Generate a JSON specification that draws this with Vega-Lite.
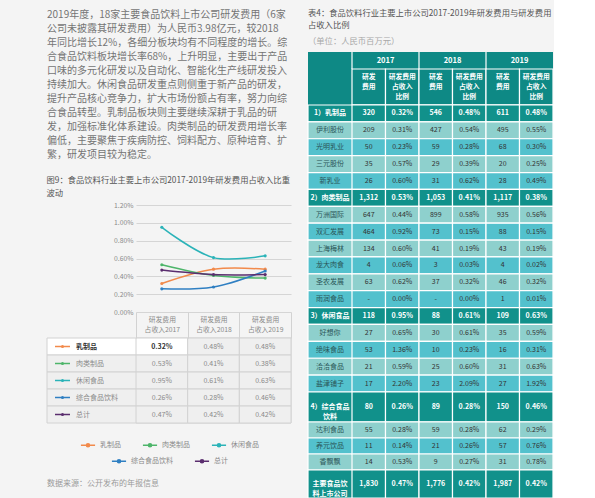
{
  "$schema": "https://vega.github.io/schema/vega-lite/v6.json",
  "background": "#f4f4f4",
  "padding": {"left": 46, "top": 8, "right": 0, "bottom": 0},
  "config": {
    "font": "Noto Sans CJK SC",
    "view": {"stroke": null},
    "legend": {"layout": {"bottom": {"anchor": "middle", "direction": "vertical", "center": true, "margin": 3}}}
  },
  "datasets": {
    "paragraph": [
      {"line": 1, "text": "2019年度，18家主要食品饮料上市公司研发费用（6家"},
      {"line": 2, "text": "公司未披露其研发费用）为人民币3.98亿元，较2018"},
      {"line": 3, "text": "年同比增长12%，各细分板块均有不同程度的增长。综"},
      {"line": 4, "text": "合食品饮料板块增长率68%，上升明显，主要出于产品"},
      {"line": 5, "text": "口味的多元化研发以及自动化、智能化生产线研发投入"},
      {"line": 6, "text": "持续加大。休闲食品研发重点则侧重于新产品的研发，"},
      {"line": 7, "text": "提升产品核心竞争力，扩大市场份额占有率，努力向综"},
      {"line": 8, "text": "合食品转型。乳制品板块则主要继续深耕于乳品的研"},
      {"line": 9, "text": "发，加强标准化体系建设。肉类制品的研发费用增长率"},
      {"line": 10, "text": "偏低，主要聚焦于疾病防控、饲料配方、原种培育、扩"},
      {"line": 11, "text": "繁，研发项目较为稳定。"}
    ],
    "tabletitle": [
      {"line": 1, "text": "表4：食品饮料行业主要上市公司2017-2019年研发费用与研发费用"},
      {"line": 2, "text": "　　占收入比例"}
    ],
    "series": [
      {"series": "乳制品", "year": "2017", "value": 0.0032},
      {"series": "乳制品", "year": "2018", "value": 0.0048},
      {"series": "乳制品", "year": "2019", "value": 0.0048},
      {"series": "肉类制品", "year": "2017", "value": 0.0053},
      {"series": "肉类制品", "year": "2018", "value": 0.0041},
      {"series": "肉类制品", "year": "2019", "value": 0.0038},
      {"series": "休闲食品", "year": "2017", "value": 0.0095},
      {"series": "休闲食品", "year": "2018", "value": 0.0061},
      {"series": "休闲食品", "year": "2019", "value": 0.0063},
      {"series": "综合食品饮料", "year": "2017", "value": 0.0026},
      {"series": "综合食品饮料", "year": "2018", "value": 0.0028},
      {"series": "综合食品饮料", "year": "2019", "value": 0.0046},
      {"series": "总计", "year": "2017", "value": 0.0047},
      {"series": "总计", "year": "2018", "value": 0.0042},
      {"series": "总计", "year": "2019", "value": 0.0042}
    ],
    "years": [
      {"year": "2017", "v": "v2017", "p": "p2017"},
      {"year": "2018", "v": "v2018", "p": "p2018"},
      {"year": "2019", "v": "v2019", "p": "p2019"}
    ],
    "hcols": [
      {"col": "v2017", "label": "研发\n费用"},
      {"col": "p2017", "label": "研发费用\n占收入\n比例"},
      {"col": "v2018", "label": "研发\n费用"},
      {"col": "p2018", "label": "研发费用\n占收入\n比例"},
      {"col": "v2019", "label": "研发\n费用"},
      {"col": "p2019", "label": "研发费用\n占收入\n比例"}
    ],
    "tbl": [
      {"name": "1）乳制品", "group": "乳制品", "level": "cat", "v2017": 320, "p2017": 0.0032, "v2018": 546, "p2018": 0.0048, "v2019": 611, "p2019": 0.0048},
      {"name": "伊利股份", "group": "乳制品", "level": "co", "v2017": 209, "p2017": 0.0031, "v2018": 427, "p2018": 0.0054, "v2019": 495, "p2019": 0.0055},
      {"name": "光明乳业", "group": "乳制品", "level": "co", "v2017": 50, "p2017": 0.0023, "v2018": 59, "p2018": 0.0028, "v2019": 68, "p2019": 0.0030},
      {"name": "三元股份", "group": "乳制品", "level": "co", "v2017": 35, "p2017": 0.0057, "v2018": 29, "p2018": 0.0039, "v2019": 20, "p2019": 0.0025},
      {"name": "新乳业", "group": "乳制品", "level": "co", "v2017": 26, "p2017": 0.0060, "v2018": 31, "p2018": 0.0062, "v2019": 28, "p2019": 0.0049},
      {"name": "2）肉类制品", "group": "肉类制品", "level": "cat", "v2017": 1312, "p2017": 0.0053, "v2018": 1053, "p2018": 0.0041, "v2019": 1117, "p2019": 0.0038},
      {"name": "万洲国际", "group": "肉类制品", "level": "co", "v2017": 647, "p2017": 0.0044, "v2018": 899, "p2018": 0.0058, "v2019": 935, "p2019": 0.0056},
      {"name": "双汇发展", "group": "肉类制品", "level": "co", "v2017": 464, "p2017": 0.0092, "v2018": 73, "p2018": 0.0015, "v2019": 88, "p2019": 0.0015},
      {"name": "上海梅林", "group": "肉类制品", "level": "co", "v2017": 134, "p2017": 0.0060, "v2018": 41, "p2018": 0.0019, "v2019": 43, "p2019": 0.0019},
      {"name": "龙大肉食", "group": "肉类制品", "level": "co", "v2017": 4, "p2017": 0.0006, "v2018": 3, "p2018": 0.0003, "v2019": 4, "p2019": 0.0002},
      {"name": "圣农发展", "group": "肉类制品", "level": "co", "v2017": 63, "p2017": 0.0062, "v2018": 37, "p2018": 0.0032, "v2019": 46, "p2019": 0.0032},
      {"name": "雨润食品", "group": "肉类制品", "level": "co", "v2017": null, "p2017": 0.0, "v2018": null, "p2018": 0.0, "v2019": 1, "p2019": 0.0001},
      {"name": "3）休闲食品", "group": "休闲食品", "level": "cat", "v2017": 118, "p2017": 0.0095, "v2018": 88, "p2018": 0.0061, "v2019": 109, "p2019": 0.0063},
      {"name": "好想你", "group": "休闲食品", "level": "co", "v2017": 27, "p2017": 0.0065, "v2018": 30, "p2018": 0.0061, "v2019": 35, "p2019": 0.0059},
      {"name": "绝味食品", "group": "休闲食品", "level": "co", "v2017": 53, "p2017": 0.0136, "v2018": 10, "p2018": 0.0023, "v2019": 16, "p2019": 0.0031},
      {"name": "洽洽食品", "group": "休闲食品", "level": "co", "v2017": 21, "p2017": 0.0059, "v2018": 25, "p2018": 0.0060, "v2019": 31, "p2019": 0.0063},
      {"name": "盐津铺子", "group": "休闲食品", "level": "co", "v2017": 17, "p2017": 0.0220, "v2018": 23, "p2018": 0.0209, "v2019": 27, "p2019": 0.0192},
      {"name": "4）综合食品\n饮料", "group": "综合食品饮料", "level": "cat", "v2017": 80, "p2017": 0.0026, "v2018": 89, "p2018": 0.0028, "v2019": 150, "p2019": 0.0046},
      {"name": "达利食品", "group": "综合食品饮料", "level": "co", "v2017": 55, "p2017": 0.0028, "v2018": 59, "p2018": 0.0028, "v2019": 62, "p2019": 0.0029},
      {"name": "养元饮品", "group": "综合食品饮料", "level": "co", "v2017": 11, "p2017": 0.0014, "v2018": 21, "p2018": 0.0026, "v2019": 57, "p2019": 0.0076},
      {"name": "香飘飘", "group": "综合食品饮料", "level": "co", "v2017": 14, "p2017": 0.0053, "v2018": 9, "p2018": 0.0027, "v2019": 31, "p2019": 0.0078},
      {"name": "主要食品饮\n料上市公司", "group": "合计", "level": "total", "v2017": 1830, "p2017": 0.0047, "v2018": 1776, "p2018": 0.0042, "v2019": 1987, "p2019": 0.0042}
    ]
  },
  "resolve": {"scale": {"color": "independent", "fill": "independent", "stroke": "independent"}, "legend": {"color": "independent", "fill": "independent", "stroke": "independent"}},
  "spacing": 15,
  "hconcat": [
    {
      "spacing": 13,
      "resolve": {"scale": {"color": "independent", "stroke": "independent"}, "legend": {"color": "independent", "stroke": "independent"}},
      "vconcat": [
        {
          "width": 244,
          "height": 154,
          "data": {"name": "paragraph"},
          "mark": {"type": "text", "align": "left", "baseline": "middle", "fontSize": 10, "color": "#757575"},
          "encoding": {
            "x": {"value": 0},
            "y": {"field": "line", "type": "ordinal", "axis": null, "scale": {"paddingInner": 0, "paddingOuter": 0}},
            "text": {"field": "text"}
          }
        },
        {
          "spacing": 8,
          "resolve": {"scale": {"color": "independent", "stroke": "independent"}, "legend": {"color": "independent", "stroke": "independent"}},
          "vconcat": [
            {
              "width": 244,
              "height": 218,
              "title": {
                "text": ["图9：食品饮料行业主要上市公司2017-2019年研发费用占收入比重", "　　波动"],
                "anchor": "start",
                "frame": "bounds",
                "fontSize": 8.3,
                "fontWeight": "normal",
                "color": "#555555",
                "lineHeight": 13,
                "offset": 5
              },
              "data": {"name": "series"},
              "resolve": {"scale": {"y": "independent"}},
              "layer": [
                {
                  "transform": [{"filter": "datum.year === '2017'"}],
                  "mark": {"type": "bar", "stroke": "#d2d2d2", "strokeWidth": 1},
                  "encoding": {
                    "y": {"field": "series", "type": "nominal", "axis": null, "scale": {"domain": ["乳制品", "肉类制品", "休闲食品", "综合食品饮料", "总计"], "range": [133, 218], "paddingInner": 0, "paddingOuter": 0}},
                    "color": {"condition": {"test": "datum.series === '乳制品'", "value": "#ffffff"}, "value": "#efefef"}
                  }
                },
                {
                  "mark": {"type": "rect", "stroke": "#d2d2d2", "strokeWidth": 1},
                  "encoding": {
                    "x": {"field": "year", "type": "ordinal", "scale": {"range": [89, 244], "paddingInner": 0, "paddingOuter": 0}, "axis": {"orient": "bottom", "offset": -111, "title": null, "domain": false, "grid": false, "ticks": true, "tickBand": "extent", "tickSize": 26, "tickColor": "#d2d2d2", "tickWidth": 1, "labelExpr": "datum.label ? ['研发费用', '占收入' + datum.label] : ''", "labelFontSize": 6.8, "labelColor": "#8a8a8a", "labelPadding": -22, "labelLineHeight": 10.5, "labelAngle": 0}},
                    "y": {"field": "series", "type": "nominal", "axis": null, "scale": {"domain": ["乳制品", "肉类制品", "休闲食品", "综合食品饮料", "总计"], "range": [133, 218], "paddingInner": 0, "paddingOuter": 0}},
                    "color": {"condition": {"test": "datum.series === '乳制品' && datum.year === '2017'", "value": "#ffffff"}, "value": "#efefef"}
                  }
                },
                {
                  "transform": [{"filter": "datum.year === '2017' && (datum.series === '乳制品' || datum.series === '肉类制品' || datum.series === '休闲食品')"}],
                  "mark": {"type": "rule", "strokeWidth": 1.5},
                  "encoding": {
                    "y": {"field": "series", "type": "nominal", "axis": null, "scale": {"domain": ["乳制品", "肉类制品", "休闲食品", "综合食品饮料", "总计"], "range": [133, 218], "paddingInner": 0, "paddingOuter": 0}},
                    "x": {"value": 8},
                    "x2": {"value": 23},
                    "color": {"field": "series", "type": "nominal", "scale": {"domain": ["乳制品", "肉类制品", "休闲食品", "综合食品饮料", "总计"], "range": ["#f28a4b", "#4db56a", "#2bb3b8", "#2f7fc2", "#5a2d6e"]}}
                  }
                },
                {
                  "transform": [{"filter": "datum.year === '2017' && (datum.series === '综合食品饮料' || datum.series === '总计')"}],
                  "mark": {"type": "rule", "strokeWidth": 1.5},
                  "encoding": {
                    "y": {"field": "series", "type": "nominal", "axis": null, "scale": {"domain": ["乳制品", "肉类制品", "休闲食品", "综合食品饮料", "总计"], "range": [133, 218], "paddingInner": 0, "paddingOuter": 0}},
                    "x": {"value": 8},
                    "x2": {"value": 23},
                    "stroke": {
                      "field": "series",
                      "type": "nominal",
                      "scale": {"domain": ["综合食品饮料", "总计"], "range": ["#2f7fc2", "#5a2d6e"]},
                      "legend": {"orient": "bottom", "direction": "horizontal", "title": null, "labelFontSize": 7, "labelColor": "#8a8a8a", "symbolType": "M-1,0L1,0M0.22,0A0.22,0.22 0 1,1 -0.22,0A0.22,0.22 0 1,1 0.22,0Z", "symbolSize": 200, "symbolStrokeWidth": 1.5, "columnPadding": 18, "offset": 14, "labelOffset": 4}
                    }
                  }
                },
                {
                  "transform": [{"filter": "datum.year === '2017'"}],
                  "mark": {"type": "point", "filled": true, "size": 9, "opacity": 1},
                  "encoding": {
                    "y": {"field": "series", "type": "nominal", "axis": null, "scale": {"domain": ["乳制品", "肉类制品", "休闲食品", "综合食品饮料", "总计"], "range": [133, 218], "paddingInner": 0, "paddingOuter": 0}},
                    "x": {"value": 15.5},
                    "color": {"field": "series", "type": "nominal", "scale": {"domain": ["乳制品", "肉类制品", "休闲食品", "综合食品饮料", "总计"], "range": ["#f28a4b", "#4db56a", "#2bb3b8", "#2f7fc2", "#5a2d6e"]}}
                  }
                },
                {
                  "transform": [{"filter": "datum.year === '2017' && datum.series !== '乳制品'"}],
                  "mark": {"type": "text", "align": "left", "fontSize": 7, "color": "#8a8a8a"},
                  "encoding": {
                    "y": {"field": "series", "type": "nominal", "axis": null, "scale": {"domain": ["乳制品", "肉类制品", "休闲食品", "综合食品饮料", "总计"], "range": [133, 218], "paddingInner": 0, "paddingOuter": 0}},
                    "x": {"value": 29},
                    "text": {"field": "series"}
                  }
                },
                {
                  "transform": [{"filter": "datum.year === '2017' && datum.series === '乳制品'"}],
                  "mark": {"type": "text", "align": "left", "fontSize": 7, "fontWeight": "bold", "color": "#333333"},
                  "encoding": {
                    "y": {"field": "series", "type": "nominal", "axis": null, "scale": {"domain": ["乳制品", "肉类制品", "休闲食品", "综合食品饮料", "总计"], "range": [133, 218], "paddingInner": 0, "paddingOuter": 0}},
                    "x": {"value": 29},
                    "text": {"field": "series"}
                  }
                },
                {
                  "transform": [{"filter": "datum.series !== '乳制品' || datum.year !== '2017'"}],
                  "mark": {"type": "text", "fontSize": 7, "color": "#8a8a8a"},
                  "encoding": {
                    "x": {"field": "year", "type": "ordinal", "scale": {"range": [89, 244], "paddingInner": 0, "paddingOuter": 0}, "axis": {"orient": "bottom", "offset": -111, "title": null, "domain": false, "grid": false, "ticks": true, "tickBand": "extent", "tickSize": 26, "tickColor": "#d2d2d2", "tickWidth": 1, "labelExpr": "datum.label ? ['研发费用', '占收入' + datum.label] : ''", "labelFontSize": 6.8, "labelColor": "#8a8a8a", "labelPadding": -22, "labelLineHeight": 10.5, "labelAngle": 0}},
                    "y": {"field": "series", "type": "nominal", "axis": null, "scale": {"domain": ["乳制品", "肉类制品", "休闲食品", "综合食品饮料", "总计"], "range": [133, 218], "paddingInner": 0, "paddingOuter": 0}},
                    "text": {"field": "value", "type": "quantitative", "format": ".2%"}
                  }
                },
                {
                  "transform": [{"filter": "datum.series === '乳制品' && datum.year === '2017'"}],
                  "mark": {"type": "text", "fontSize": 7, "fontWeight": "bold", "color": "#333333"},
                  "encoding": {
                    "x": {"field": "year", "type": "ordinal", "scale": {"range": [89, 244], "paddingInner": 0, "paddingOuter": 0}, "axis": {"orient": "bottom", "offset": -111, "title": null, "domain": false, "grid": false, "ticks": true, "tickBand": "extent", "tickSize": 26, "tickColor": "#d2d2d2", "tickWidth": 1, "labelExpr": "datum.label ? ['研发费用', '占收入' + datum.label] : ''", "labelFontSize": 6.8, "labelColor": "#8a8a8a", "labelPadding": -22, "labelLineHeight": 10.5, "labelAngle": 0}},
                    "y": {"field": "series", "type": "nominal", "axis": null, "scale": {"domain": ["乳制品", "肉类制品", "休闲食品", "综合食品饮料", "总计"], "range": [133, 218], "paddingInner": 0, "paddingOuter": 0}},
                    "text": {"field": "value", "type": "quantitative", "format": ".2%"}
                  }
                },
                {
                  "mark": {"type": "line", "interpolate": "catmull-rom", "strokeWidth": 1.5, "point": {"filled": true, "size": 10}},
                  "encoding": {
                    "x": {"field": "year", "type": "ordinal", "scale": {"range": [89, 244], "paddingInner": 0, "paddingOuter": 0}, "axis": {"orient": "bottom", "offset": -111, "title": null, "domain": false, "grid": false, "ticks": true, "tickBand": "extent", "tickSize": 26, "tickColor": "#d2d2d2", "tickWidth": 1, "labelExpr": "datum.label ? ['研发费用', '占收入' + datum.label] : ''", "labelFontSize": 6.8, "labelColor": "#8a8a8a", "labelPadding": -22, "labelLineHeight": 10.5, "labelAngle": 0}},
                    "y": {"field": "value", "type": "quantitative", "scale": {"domain": [0, 0.012], "range": [107, 0], "nice": false, "zero": true}, "axis": {"orient": "left", "offset": -89, "format": ".2%", "values": [0, 0.002, 0.004, 0.006, 0.008, 0.01, 0.012], "title": null, "domain": false, "ticks": false, "grid": true, "gridColor": "#d5d5d5", "gridWidth": 1, "labelFontSize": 6.8, "labelColor": "#8a8a8a", "labelPadding": 3}},
                    "color": {
                      "field": "series",
                      "type": "nominal",
                      "scale": {"domain": ["乳制品", "肉类制品", "休闲食品", "综合食品饮料", "总计"], "range": ["#f28a4b", "#4db56a", "#2bb3b8", "#2f7fc2", "#5a2d6e"]},
                      "legend": {"orient": "bottom", "direction": "horizontal", "values": ["乳制品", "肉类制品", "休闲食品"], "title": null, "labelFontSize": 7, "labelColor": "#8a8a8a", "symbolType": "M-1,0L1,0M0.22,0A0.22,0.22 0 1,1 -0.22,0A0.22,0.22 0 1,1 0.22,0Z", "symbolSize": 200, "symbolStrokeWidth": 1.5, "columnPadding": 18, "offset": 14, "labelOffset": 4}
                    }
                  }
                }
              ]
            },
            {
              "width": 244,
              "height": 0,
              "data": {"values": [{"t": "数据来源：公开发布的年报信息"}]},
              "mark": {"type": "text", "align": "left", "baseline": "middle", "fontSize": 8, "color": "#9a9a9a"},
              "encoding": {"x": {"value": 0}, "text": {"field": "t"}}
            }
          ]
        }
      ]
    },
    {
      "spacing": 0,
      "bounds": "flush",
      "vconcat": [
        {
          "width": 245,
          "height": 24,
          "data": {"name": "tabletitle"},
          "mark": {"type": "text", "align": "left", "baseline": "middle", "fontSize": 8.3, "color": "#555555"},
          "encoding": {
            "x": {"value": 0},
            "y": {"field": "line", "type": "ordinal", "axis": null, "scale": {"paddingInner": 0, "paddingOuter": 0}},
            "text": {"field": "text"}
          }
        },
        {
          "width": 245,
          "height": 20,
          "data": {"values": [{"t": "（单位：人民币百万元）"}]},
          "mark": {"type": "text", "align": "left", "baseline": "middle", "fontSize": 8.3, "color": "#a8a8a8"},
          "encoding": {"x": {"value": 0}, "text": {"field": "t"}}
        },
        {
          "width": 245,
          "height": 17,
          "view": {"fill": "#0e8985", "stroke": null},
          "data": {"name": "years"},
          "layer": [
            {
              "mark": {"type": "rule", "stroke": "#ffffff", "strokeWidth": 1.2},
              "encoding": {"x": {"field": "v", "type": "nominal", "bandPosition": 0, "axis": null, "scale": {"domain": ["v2017", "p2017", "v2018", "p2018", "v2019", "p2019"], "range": [44, 245], "paddingInner": 0, "paddingOuter": 0}}}
            },
            {
              "mark": {"type": "text", "color": "#ffffff", "fontWeight": "bold", "fontSize": 7.5},
              "encoding": {
                "x": {"field": "p", "type": "nominal", "bandPosition": 0, "axis": null, "scale": {"domain": ["v2017", "p2017", "v2018", "p2018", "v2019", "p2019"], "range": [44, 245], "paddingInner": 0, "paddingOuter": 0}},
                "text": {"field": "year"}
              }
            }
          ]
        },
        {
          "width": 245,
          "height": 36,
          "view": {"fill": "#0e8985", "stroke": null},
          "data": {"name": "hcols"},
          "encoding": {"x": {"field": "col", "type": "nominal", "axis": null, "scale": {"domain": ["v2017", "p2017", "v2018", "p2018", "v2019", "p2019"], "range": [44, 245], "paddingInner": 0, "paddingOuter": 0}}},
          "layer": [
            {"mark": {"type": "bar", "fill": "#0e8985", "stroke": "#ffffff", "strokeWidth": 1.2}},
            {
              "mark": {"type": "text", "color": "#ffffff", "fontWeight": "bold", "fontSize": 6.8, "lineBreak": "\n", "lineHeight": 10, "baseline": "top", "dy": -13.5},
              "encoding": {"text": {"field": "label"}}
            }
          ]
        },
        {
          "width": 245,
          "height": 287,
          "data": {"name": "tbl"},
          "transform": [{"filter": {"field": "group", "oneOf": ["乳制品", "肉类制品", "休闲食品"]}}],
          "encoding": {
            "y": {"field": "name", "type": "nominal", "axis": null, "scale": {"domain": ["1）乳制品", "伊利股份", "光明乳业", "三元股份", "新乳业", "2）肉类制品", "万洲国际", "双汇发展", "上海梅林", "龙大肉食", "圣农发展", "雨润食品", "3）休闲食品", "好想你", "绝味食品", "洽洽食品", "盐津铺子"], "paddingInner": 0, "paddingOuter": 0}}
          },
          "layer": [
            {
              "mark": {"type": "bar", "stroke": "#ffffff", "strokeWidth": 1.2},
              "encoding": {"fill": {"field": "name", "type": "nominal", "legend": null, "scale": {"domain": ["1）乳制品", "伊利股份", "光明乳业", "三元股份", "新乳业", "2）肉类制品", "万洲国际", "双汇发展", "上海梅林", "龙大肉食", "圣农发展", "雨润食品", "3）休闲食品", "好想你", "绝味食品", "洽洽食品", "盐津铺子", "4）综合食品\n饮料", "达利食品", "养元饮品", "香飘飘", "主要食品饮\n料上市公司"], "range": ["#11918b", "#8ed0cd", "#53c1cd", "#8ed0cd", "#53c1cd", "#11918b", "#8ed0cd", "#53c1cd", "#8ed0cd", "#53c1cd", "#8ed0cd", "#53c1cd", "#11918b", "#8ed0cd", "#53c1cd", "#8ed0cd", "#53c1cd", "#11918b", "#8ed0cd", "#53c1cd", "#8ed0cd", "#11918b"]}}}
            },
            {
              "transform": [{"fold": ["v2017", "p2017", "v2018", "p2018", "v2019", "p2019"], "as": ["col", "val"]}],
              "mark": {"type": "rect", "stroke": "#ffffff", "strokeWidth": 1.2},
              "encoding": {
                "x": {"field": "col", "type": "nominal", "axis": null, "scale": {"domain": ["v2017", "p2017", "v2018", "p2018", "v2019", "p2019"], "range": [44, 245], "paddingInner": 0, "paddingOuter": 0}},
                "fill": {"field": "name", "type": "nominal", "legend": null, "scale": {"domain": ["1）乳制品", "伊利股份", "光明乳业", "三元股份", "新乳业", "2）肉类制品", "万洲国际", "双汇发展", "上海梅林", "龙大肉食", "圣农发展", "雨润食品", "3）休闲食品", "好想你", "绝味食品", "洽洽食品", "盐津铺子", "4）综合食品\n饮料", "达利食品", "养元饮品", "香飘飘", "主要食品饮\n料上市公司"], "range": ["#11918b", "#8ed0cd", "#53c1cd", "#8ed0cd", "#53c1cd", "#11918b", "#8ed0cd", "#53c1cd", "#8ed0cd", "#53c1cd", "#8ed0cd", "#53c1cd", "#11918b", "#8ed0cd", "#53c1cd", "#8ed0cd", "#53c1cd", "#11918b", "#8ed0cd", "#53c1cd", "#8ed0cd", "#11918b"]}}
              }
            },
            {
              "transform": [{"filter": {"field": "level", "oneOf": ["cat", "total"]}}],
              "mark": {"type": "text", "color": "#ffffff", "fontWeight": "bold", "fontSize": 7, "lineBreak": "\n", "lineHeight": 10},
              "encoding": {"x": {"value": 22}, "text": {"field": "name"}}
            },
            {
              "transform": [{"filter": {"field": "level", "equal": "co"}}],
              "mark": {"type": "text", "color": "#2a5557", "fontSize": 7},
              "encoding": {"x": {"value": 22}, "text": {"field": "name"}}
            },
            {
              "transform": [{"filter": {"field": "level", "oneOf": ["cat", "total"]}}, {"fold": ["v2017", "v2018", "v2019"], "as": ["col", "val"]}],
              "mark": {"type": "text", "color": "#ffffff", "fontWeight": "bold", "fontSize": 7},
              "encoding": {
                "x": {"field": "col", "type": "nominal", "axis": null, "scale": {"domain": ["v2017", "p2017", "v2018", "p2018", "v2019", "p2019"], "range": [44, 245], "paddingInner": 0, "paddingOuter": 0}},
                "text": {"field": "val", "type": "quantitative", "format": ",d"}
              }
            },
            {
              "transform": [{"filter": {"field": "level", "oneOf": ["cat", "total"]}}, {"fold": ["p2017", "p2018", "p2019"], "as": ["col", "val"]}],
              "mark": {"type": "text", "color": "#ffffff", "fontWeight": "bold", "fontSize": 7},
              "encoding": {
                "x": {"field": "col", "type": "nominal", "axis": null, "scale": {"domain": ["v2017", "p2017", "v2018", "p2018", "v2019", "p2019"], "range": [44, 245], "paddingInner": 0, "paddingOuter": 0}},
                "text": {"field": "val", "type": "quantitative", "format": ".2%"}
              }
            },
            {
              "transform": [{"filter": {"field": "level", "equal": "co"}}, {"fold": ["v2017", "v2018", "v2019"], "as": ["col", "val"]}, {"filter": "datum.val !== null"}],
              "mark": {"type": "text", "color": "#333333", "fontSize": 7},
              "encoding": {
                "x": {"field": "col", "type": "nominal", "axis": null, "scale": {"domain": ["v2017", "p2017", "v2018", "p2018", "v2019", "p2019"], "range": [44, 245], "paddingInner": 0, "paddingOuter": 0}},
                "text": {"field": "val", "type": "quantitative", "format": ",d"}
              }
            },
            {
              "transform": [{"filter": {"field": "level", "equal": "co"}}, {"fold": ["v2017", "v2018", "v2019"], "as": ["col", "val"]}, {"filter": "datum.val === null"}],
              "mark": {"type": "text", "color": "#333333", "fontSize": 7},
              "encoding": {
                "x": {"field": "col", "type": "nominal", "axis": null, "scale": {"domain": ["v2017", "p2017", "v2018", "p2018", "v2019", "p2019"], "range": [44, 245], "paddingInner": 0, "paddingOuter": 0}},
                "text": {"value": "-"}
              }
            },
            {
              "transform": [{"filter": {"field": "level", "equal": "co"}}, {"fold": ["p2017", "p2018", "p2019"], "as": ["col", "val"]}],
              "mark": {"type": "text", "color": "#333333", "fontSize": 7},
              "encoding": {
                "x": {"field": "col", "type": "nominal", "axis": null, "scale": {"domain": ["v2017", "p2017", "v2018", "p2018", "v2019", "p2019"], "range": [44, 245], "paddingInner": 0, "paddingOuter": 0}},
                "text": {"field": "val", "type": "quantitative", "format": ".2%"}
              }
            }
          ]
        },
        {
          "width": 245,
          "height": 30,
          "data": {"name": "tbl"},
          "transform": [{"filter": {"and": [{"field": "group", "equal": "综合食品饮料"}, {"field": "level", "equal": "cat"}]}}],
          "encoding": {
            "y": {"field": "name", "type": "nominal", "axis": null, "scale": {"domain": ["4）综合食品\n饮料"], "paddingInner": 0, "paddingOuter": 0}}
          },
          "layer": [
            {"mark": {"type": "bar", "fill": "#11918b", "stroke": "#ffffff", "strokeWidth": 1.2}},
            {
              "transform": [{"fold": ["v2017", "p2017", "v2018", "p2018", "v2019", "p2019"], "as": ["col", "val"]}],
              "mark": {"type": "rect", "fill": "#11918b", "stroke": "#ffffff", "strokeWidth": 1.2},
              "encoding": {"x": {"field": "col", "type": "nominal", "axis": null, "scale": {"domain": ["v2017", "p2017", "v2018", "p2018", "v2019", "p2019"], "range": [44, 245], "paddingInner": 0, "paddingOuter": 0}}}
            },
            {
              "mark": {"type": "text", "color": "#ffffff", "fontWeight": "bold", "fontSize": 7, "lineBreak": "\n", "lineHeight": 10},
              "encoding": {"x": {"value": 22}, "text": {"field": "name"}}
            },
            {
              "transform": [{"fold": ["v2017", "v2018", "v2019"], "as": ["col", "val"]}],
              "mark": {"type": "text", "color": "#ffffff", "fontWeight": "bold", "fontSize": 7},
              "encoding": {
                "x": {"field": "col", "type": "nominal", "axis": null, "scale": {"domain": ["v2017", "p2017", "v2018", "p2018", "v2019", "p2019"], "range": [44, 245], "paddingInner": 0, "paddingOuter": 0}},
                "text": {"field": "val", "type": "quantitative", "format": ",d"}
              }
            },
            {
              "transform": [{"fold": ["p2017", "p2018", "p2019"], "as": ["col", "val"]}],
              "mark": {"type": "text", "color": "#ffffff", "fontWeight": "bold", "fontSize": 7},
              "encoding": {
                "x": {"field": "col", "type": "nominal", "axis": null, "scale": {"domain": ["v2017", "p2017", "v2018", "p2018", "v2019", "p2019"], "range": [44, 245], "paddingInner": 0, "paddingOuter": 0}},
                "text": {"field": "val", "type": "quantitative", "format": ".2%"}
              }
            }
          ]
        },
        {
          "width": 245,
          "height": 48,
          "data": {"name": "tbl"},
          "transform": [{"filter": {"and": [{"field": "group", "equal": "综合食品饮料"}, {"field": "level", "equal": "co"}]}}],
          "encoding": {
            "y": {"field": "name", "type": "nominal", "axis": null, "scale": {"domain": ["达利食品", "养元饮品", "香飘飘"], "paddingInner": 0, "paddingOuter": 0}}
          },
          "layer": [
            {
              "mark": {"type": "bar", "stroke": "#ffffff", "strokeWidth": 1.2},
              "encoding": {"fill": {"field": "name", "type": "nominal", "legend": null, "scale": {"domain": ["1）乳制品", "伊利股份", "光明乳业", "三元股份", "新乳业", "2）肉类制品", "万洲国际", "双汇发展", "上海梅林", "龙大肉食", "圣农发展", "雨润食品", "3）休闲食品", "好想你", "绝味食品", "洽洽食品", "盐津铺子", "4）综合食品\n饮料", "达利食品", "养元饮品", "香飘飘", "主要食品饮\n料上市公司"], "range": ["#11918b", "#8ed0cd", "#53c1cd", "#8ed0cd", "#53c1cd", "#11918b", "#8ed0cd", "#53c1cd", "#8ed0cd", "#53c1cd", "#8ed0cd", "#53c1cd", "#11918b", "#8ed0cd", "#53c1cd", "#8ed0cd", "#53c1cd", "#11918b", "#8ed0cd", "#53c1cd", "#8ed0cd", "#11918b"]}}}
            },
            {
              "transform": [{"fold": ["v2017", "p2017", "v2018", "p2018", "v2019", "p2019"], "as": ["col", "val"]}],
              "mark": {"type": "rect", "stroke": "#ffffff", "strokeWidth": 1.2},
              "encoding": {
                "x": {"field": "col", "type": "nominal", "axis": null, "scale": {"domain": ["v2017", "p2017", "v2018", "p2018", "v2019", "p2019"], "range": [44, 245], "paddingInner": 0, "paddingOuter": 0}},
                "fill": {"field": "name", "type": "nominal", "legend": null, "scale": {"domain": ["1）乳制品", "伊利股份", "光明乳业", "三元股份", "新乳业", "2）肉类制品", "万洲国际", "双汇发展", "上海梅林", "龙大肉食", "圣农发展", "雨润食品", "3）休闲食品", "好想你", "绝味食品", "洽洽食品", "盐津铺子", "4）综合食品\n饮料", "达利食品", "养元饮品", "香飘飘", "主要食品饮\n料上市公司"], "range": ["#11918b", "#8ed0cd", "#53c1cd", "#8ed0cd", "#53c1cd", "#11918b", "#8ed0cd", "#53c1cd", "#8ed0cd", "#53c1cd", "#8ed0cd", "#53c1cd", "#11918b", "#8ed0cd", "#53c1cd", "#8ed0cd", "#53c1cd", "#11918b", "#8ed0cd", "#53c1cd", "#8ed0cd", "#11918b"]}}
              }
            },
            {
              "mark": {"type": "text", "color": "#2a5557", "fontSize": 7},
              "encoding": {"x": {"value": 22}, "text": {"field": "name"}}
            },
            {
              "transform": [{"fold": ["v2017", "v2018", "v2019"], "as": ["col", "val"]}],
              "mark": {"type": "text", "color": "#333333", "fontSize": 7},
              "encoding": {
                "x": {"field": "col", "type": "nominal", "axis": null, "scale": {"domain": ["v2017", "p2017", "v2018", "p2018", "v2019", "p2019"], "range": [44, 245], "paddingInner": 0, "paddingOuter": 0}},
                "text": {"field": "val", "type": "quantitative", "format": ",d"}
              }
            },
            {
              "transform": [{"fold": ["p2017", "p2018", "p2019"], "as": ["col", "val"]}],
              "mark": {"type": "text", "color": "#333333", "fontSize": 7},
              "encoding": {
                "x": {"field": "col", "type": "nominal", "axis": null, "scale": {"domain": ["v2017", "p2017", "v2018", "p2018", "v2019", "p2019"], "range": [44, 245], "paddingInner": 0, "paddingOuter": 0}},
                "text": {"field": "val", "type": "quantitative", "format": ".2%"}
              }
            }
          ]
        },
        {
          "width": 245,
          "height": 28,
          "data": {"name": "tbl"},
          "transform": [{"filter": {"field": "level", "equal": "total"}}],
          "encoding": {
            "y": {"field": "name", "type": "nominal", "axis": null, "scale": {"domain": ["主要食品饮\n料上市公司"], "paddingInner": 0, "paddingOuter": 0}}
          },
          "layer": [
            {"mark": {"type": "bar", "fill": "#11918b", "stroke": "#ffffff", "strokeWidth": 1.2}},
            {
              "transform": [{"fold": ["v2017", "p2017", "v2018", "p2018", "v2019", "p2019"], "as": ["col", "val"]}],
              "mark": {"type": "rect", "fill": "#11918b", "stroke": "#ffffff", "strokeWidth": 1.2},
              "encoding": {"x": {"field": "col", "type": "nominal", "axis": null, "scale": {"domain": ["v2017", "p2017", "v2018", "p2018", "v2019", "p2019"], "range": [44, 245], "paddingInner": 0, "paddingOuter": 0}}}
            },
            {
              "mark": {"type": "text", "color": "#ffffff", "fontWeight": "bold", "fontSize": 7, "lineBreak": "\n", "lineHeight": 10},
              "encoding": {"x": {"value": 22}, "text": {"field": "name"}}
            },
            {
              "transform": [{"fold": ["v2017", "v2018", "v2019"], "as": ["col", "val"]}],
              "mark": {"type": "text", "color": "#ffffff", "fontWeight": "bold", "fontSize": 7},
              "encoding": {
                "x": {"field": "col", "type": "nominal", "axis": null, "scale": {"domain": ["v2017", "p2017", "v2018", "p2018", "v2019", "p2019"], "range": [44, 245], "paddingInner": 0, "paddingOuter": 0}},
                "text": {"field": "val", "type": "quantitative", "format": ",d"}
              }
            },
            {
              "transform": [{"fold": ["p2017", "p2018", "p2019"], "as": ["col", "val"]}],
              "mark": {"type": "text", "color": "#ffffff", "fontWeight": "bold", "fontSize": 7},
              "encoding": {
                "x": {"field": "col", "type": "nominal", "axis": null, "scale": {"domain": ["v2017", "p2017", "v2018", "p2018", "v2019", "p2019"], "range": [44, 245], "paddingInner": 0, "paddingOuter": 0}},
                "text": {"field": "val", "type": "quantitative", "format": ".2%"}
              }
            }
          ]
        }
      ]
    }
  ]
}
